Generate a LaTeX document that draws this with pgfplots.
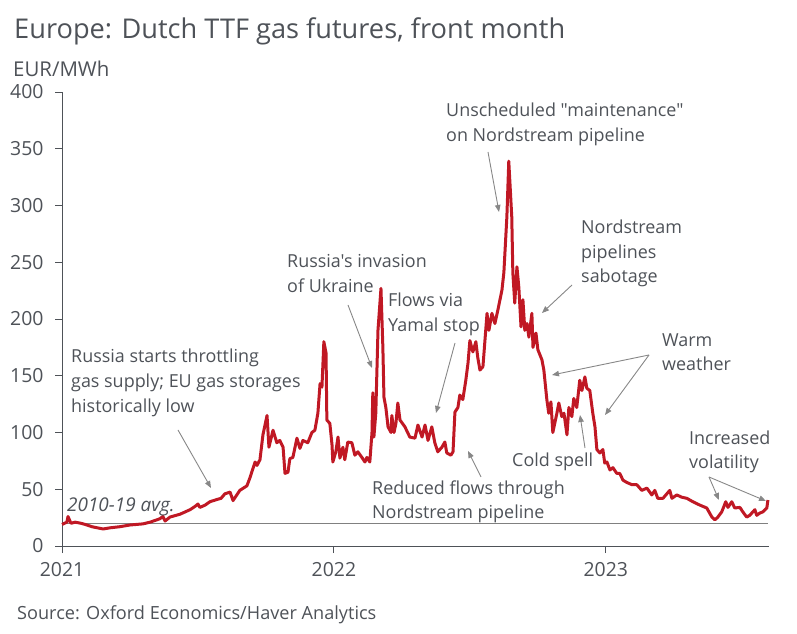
\documentclass[border=0pt]{standalone}
\usepackage{pgfplots}
\pgfplotsset{compat=1.18}
\usepackage{fontspec}
\setmainfont{Open Sans}[Ligatures=TeXOff]
\usetikzlibrary{arrows.meta}
\definecolor{txt}{RGB}{78,82,88}
\definecolor{ttf}{RGB}{192,24,36}
\definecolor{arr}{RGB}{135,135,135}
\definecolor{avgline}{RGB}{128,128,128}

% Dutch TTF front-month price, EUR/MWh (x in decimal years)
\pgfplotstableread{
x y
2021.000 19
2021.018 21
2021.022 26
2021.033 20
2021.048 21
2021.070 20
2021.085 19
2021.110 17
2021.151 15
2021.176 16
2021.213 17
2021.250 18.5
2021.298 19.5
2021.324 21
2021.360 24
2021.371 26
2021.379 22
2021.397 25.5
2021.434 28
2021.471 32
2021.490 35
2021.500 37
2021.507 34
2021.526 36
2021.544 39
2021.570 41
2021.585 42
2021.599 46
2021.618 47.5
2021.629 40
2021.654 49
2021.680 53
2021.691 60
2021.710 74
2021.717 71
2021.728 76
2021.739 98
2021.754 115
2021.761 87
2021.776 102
2021.790 91
2021.801 93
2021.813 87
2021.820 64
2021.831 65
2021.838 77
2021.849 78
2021.864 95
2021.875 86
2021.886 93
2021.904 91
2021.919 100
2021.930 102
2021.941 117
2021.949 143
2021.956 140
2021.963 180
2021.971 170
2021.974 111
2021.985 108
2021.993 89
2021.996 74
2022.007 83
2022.015 96
2022.022 77.5
2022.033 87
2022.040 76
2022.051 91.6
2022.066 91
2022.077 80
2022.088 83
2022.103 78
2022.114 74
2022.121 78
2022.132 74
2022.140 100
2022.143 135
2022.147 96
2022.154 117
2022.162 190
2022.173 227
2022.180 175
2022.184 131
2022.191 122
2022.199 105
2022.210 100
2022.213 115
2022.221 100
2022.228 108
2022.235 126
2022.243 111
2022.261 105
2022.279 96
2022.298 95
2022.309 106.6
2022.324 96
2022.335 106.6
2022.346 93
2022.360 105
2022.371 91
2022.382 83
2022.397 87
2022.408 91.6
2022.415 82
2022.430 80
2022.438 83
2022.445 118
2022.456 122
2022.463 133
2022.474 129
2022.485 146
2022.493 161
2022.500 181
2022.511 171
2022.522 180
2022.529 166
2022.537 155
2022.548 158
2022.563 205
2022.570 190
2022.581 205
2022.592 196
2022.603 208
2022.618 225.6
2022.625 241
2022.636 290
2022.643 339
2022.654 290
2022.658 240.5
2022.665 214
2022.673 246
2022.680 228
2022.688 193
2022.695 217
2022.702 190
2022.710 196
2022.717 184
2022.728 205
2022.732 175
2022.743 187.6
2022.750 173
2022.765 164
2022.772 155
2022.783 129
2022.790 117
2022.798 127
2022.805 100
2022.820 117
2022.827 126
2022.838 114
2022.846 117
2022.857 98
2022.864 122
2022.875 114
2022.882 130
2022.893 122
2022.904 146
2022.912 137
2022.923 149
2022.930 139
2022.941 137
2022.952 117
2022.960 105
2022.967 85
2022.978 82
2022.989 85
2022.996 73
2023.004 74
2023.015 67
2023.026 69
2023.040 64
2023.051 64
2023.063 58
2023.077 56
2023.096 54
2023.114 54
2023.132 49
2023.151 51
2023.169 45
2023.180 49
2023.191 42
2023.210 42
2023.235 49
2023.243 42
2023.261 45
2023.279 43
2023.298 42
2023.320 39
2023.346 36
2023.371 33.5
2023.390 25.5
2023.401 23
2023.412 25.5
2023.426 30
2023.441 39
2023.449 34
2023.463 39
2023.474 33.5
2023.493 34
2023.504 30
2023.518 25.5
2023.529 27
2023.548 32
2023.555 27
2023.566 29
2023.577 30
2023.592 33.5
2023.596 40.5
}\ttfdata

% annotation text, one line per call: x, y (from the top), text
\newcommand{\lbl}[3]{\node[anchor=base west, inner sep=0pt, text=txt,
  font=\fontsize{18}{21}\selectfont] at (#1,#2) {#3};}
\newcommand{\dq}{\symbol{34}}
\newcommand{\sq}{\symbol{39}}

\begin{document}
\begin{tikzpicture}
\useasboundingbox (0,0) rectangle (797bp,634bp);
\begin{axis}[
  at={(62bp,88bp)}, anchor=south west,
  scale only axis, width=707bp, height=454bp,
  xmin=2021, xmax=2023.6, ymin=0, ymax=400,
  axis x line=bottom, axis y line=left,
  axis line style={-, draw=txt, line width=0.9bp},
  xtick={2021,2022,2023}, xticklabels={2021,2022,2023},
  ytick={0,50,...,400},
  tick align=outside, major tick length=7bp,
  tick style={draw=txt, line width=0.9bp},
  /pgf/number format/assume math mode=true,
  ticklabel style={font=\fontsize{19.5}{22}\selectfont, text=txt},
  xticklabel style={yshift=-6bp},
  yticklabel style={xshift=-8bp},
  clip=false,
]
\addplot[avgline, line width=1.1bp] coordinates {(2021,20) (2023.598,20)};
\addplot[ttf, line width=3bp, line join=round] table[x=x, y=y] {\ttfdata};
\end{axis}

\begin{scope}[yshift=634bp, x=1bp, y=-1bp]
  % title, unit and source
  \node[anchor=base west, inner sep=0pt, text=txt, font=\fontsize{27.3}{30}\selectfont]
    at (14,39) {Europe: Dutch TTF gas futures, front month};
  \node[anchor=base west, inner sep=0pt, text=txt, font=\fontsize{20.5}{23}\selectfont]
    at (13,77) {EUR/MWh};
  \node[anchor=base west, inner sep=0pt, text=txt, font=\fontsize{18.2}{21}\selectfont]
    at (17,620) {Source: Oxford Economics/Haver Analytics};
  \node[anchor=base west, inner sep=0pt, text=txt, font=\fontsize{19}{22}\selectfont\itshape]
    at (67,512) {2010-19 avg.};

  % annotations
  \lbl{71}{363}{Russia starts throttling}
  \lbl{71}{388}{gas supply; EU gas storages}
  \lbl{71}{413}{historically low}
  \lbl{287}{268}{Russia\sq s invasion}
  \lbl{287}{293}{of Ukraine}
  \lbl{388}{307}{Flows via}
  \lbl{388}{332}{Yamal stop}
  \lbl{446}{117}{Unscheduled \dq maintenance\dq}
  \lbl{446}{142}{on Nordstream pipeline}
  \lbl{581}{234}{Nordstream}
  \lbl{581}{259}{pipelines}
  \lbl{581}{283}{sabotage}
  \lbl{662}{347}{Warm}
  \lbl{662}{371}{weather}
  \lbl{512}{467}{Cold spell}
  \lbl{372}{495}{Reduced flows through}
  \lbl{372}{519}{Nordstream pipeline}
  \lbl{689}{445}{Increased}
  \lbl{689}{469}{volatility}

  % arrows
  \begin{scope}[draw=arr, line width=0.9bp, -{Triangle[length=7bp,width=5.5bp]}, arr]
    \draw (178,430) -- (211,488);
    \draw (348,305) -- (372,368);
    \draw (455,343) -- (436,413);
    \draw (488,152) -- (499,212);
    \draw (572,285) -- (542,313);
    \draw (649,355) -- (552,375);
    \draw (649,355) -- (605,415);
    \draw (585,448) -- (580,415);
    \draw (481,477) -- (468,451);
    \draw (709,477) -- (719,500);
    \draw (709,477) -- (766,501);
  \end{scope}
\end{scope}
\end{tikzpicture}
\end{document}
